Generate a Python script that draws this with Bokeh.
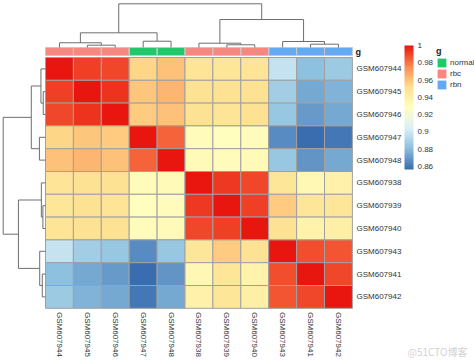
import math
from bokeh.plotting import figure
from bokeh.models import (Range1d, LinearColorMapper, ColorBar, FixedTicker,
                          CustomJSTickFormatter, Legend, LegendItem, Label, ColumnDataSource)
from bokeh.core.properties import value
from bokeh.embed import file_html
from bokeh.resources import INLINE

# ---------------- data ----------------
samples = ["GSM607944", "GSM607945", "GSM607946", "GSM607947", "GSM607948",
           "GSM607938", "GSM607939", "GSM607940", "GSM607943", "GSM607941", "GSM607942"]
groups = ["rbc", "rbc", "rbc", "normal", "normal", "rbc", "rbc", "rbc", "rbn", "rbn", "rbn"]
group_levels = ["normal", "rbc", "rbn"]
group_colors = ["#1DC968", "#F8877F", "#64A9F6"]

corr = [
    [1.000, 0.990, 0.989, 0.955, 0.961, 0.949, 0.948, 0.949, 0.897, 0.882, 0.886],
    [0.990, 1.000, 0.993, 0.959, 0.963, 0.951, 0.950, 0.951, 0.888, 0.874, 0.878],
    [0.989, 0.993, 1.000, 0.958, 0.961, 0.950, 0.949, 0.950, 0.884, 0.870, 0.875],
    [0.955, 0.959, 0.958, 1.000, 0.984, 0.930, 0.929, 0.930, 0.866, 0.8565, 0.860],
    [0.961, 0.963, 0.961, 0.984, 1.000, 0.932, 0.931, 0.932, 0.884, 0.868, 0.875],
    [0.949, 0.951, 0.950, 0.930, 0.932, 1.000, 0.992, 0.989, 0.948, 0.933, 0.939],
    [0.948, 0.950, 0.949, 0.929, 0.931, 0.992, 1.000, 0.991, 0.957, 0.947, 0.947],
    [0.949, 0.951, 0.950, 0.930, 0.932, 0.989, 0.991, 1.000, 0.950, 0.937, 0.940],
    [0.897, 0.888, 0.884, 0.866, 0.884, 0.948, 0.957, 0.950, 1.000, 0.988, 0.987],
    [0.882, 0.874, 0.870, 0.8565, 0.868, 0.933, 0.947, 0.937, 0.988, 1.000, 0.989],
    [0.886, 0.878, 0.875, 0.860, 0.875, 0.939, 0.947, 0.940, 0.987, 0.989, 1.000],
]

# hierarchical clustering (same tree for rows and columns), leaves in display order
merge_a = [1, 0, 3, 12, 6, 5, 9, 8, 16, 14]
merge_b = [2, 11, 4, 13, 7, 15, 10, 17, 18, 19]
merge_h = [0.053, 0.108, 0.144, 0.336, 0.062, 0.098, 0.076, 0.137, 0.640, 1.000]

cb_ticks = [0.86, 0.88, 0.90, 0.92, 0.94, 0.96, 0.98, 1.00]
base_palette = ["#3A6DB0", "#8CC0DE", "#DDF1F7", "#FFFFBF", "#FEE090", "#FC8A50", "#E8160E"]

# ---------------- layout constants (pixels, canvas coordinates) ----------------
W, H = 474, 361
HM_X0, HM_Y0 = 45.0, 57.0      # heatmap top-left corner
CW, CH = 27.9, 22.8            # cell size
ANN_TOP, ANN_BOT = 47.0, 55.0  # annotation bar
COL_TREE_TOP = 3.3
ROW_TREE_LEFT = 2.7
FONT = "Liberation Sans"
TXT = "#333333"

n = len(samples)


def ramp(cols, k):
    rgb = [tuple(int(c[i:i + 2], 16) for i in (1, 3, 5)) for c in cols]
    out = []
    for s in range(k):
        t = s / (k - 1) * (len(rgb) - 1)
        i = min(int(t), len(rgb) - 2)
        f = t - i
        c = [round(rgb[i][q] + (rgb[i + 1][q] - rgb[i][q]) * f) for q in range(3)]
        out.append("#%02x%02x%02x" % tuple(c))
    return out


palette = ramp(base_palette, 100)
flat = [v for row in corr for v in row]
mapper = LinearColorMapper(palette=palette, low=min(flat), high=max(flat))

p = figure(width=W, height=H,
           x_range=Range1d(-HM_X0 / CW, (W - HM_X0) / CW),
           y_range=Range1d(n - (H - HM_Y0) / CH, n + HM_Y0 / CH),
           output_backend="svg", toolbar_location=None, min_border=0,
           x_axis_location=None, y_axis_location=None,
           outline_line_color=None)
p.xgrid.visible = False
p.ygrid.visible = False

# heatmap
hx, hy, hv = [], [], []
for j in range(n):
    for i in range(n):
        hx.append(i + 0.5)
        hy.append(n - j - 0.5)
        hv.append(corr[j][i])
src = ColumnDataSource(dict(x=hx, y=hy, v=hv))
p.rect(x="x", y="y", width=1, height=1, source=src,
       fill_color={"field": "v", "transform": mapper},
       line_color="#a0a0a0", line_width=1)

# annotation bar
ann_c = n + (HM_Y0 - (ANN_TOP + ANN_BOT) / 2) / CH
ann_h = (ANN_BOT - ANN_TOP) / CH
grp_renderers = {}
for g, col in zip(group_levels, group_colors):
    xs = [i + 0.5 for i in range(n) if groups[i] == g]
    grp_renderers[g] = p.rect(x=xs, y=[ann_c] * len(xs), width=1, height=ann_h,
                              fill_color=col, line_color=None)
p.rect(x=[i + 0.5 for i in range(n)], y=[ann_c] * n, width=1, height=ann_h,
       fill_color=None, line_color="#c8c8c8", line_width=1)


# dendrograms
def tree_segments(a, b, h):
    pos = {i: i + 0.5 for i in range(n)}
    ht = {i: 0.0 for i in range(n)}
    segs = []
    for k, (l, r, hh) in enumerate(zip(a, b, h)):
        segs.append(([pos[l], pos[l], pos[r], pos[r]], [ht[l], hh, hh, ht[r]]))
        pos[n + k] = (pos[l] + pos[r]) / 2
        ht[n + k] = hh
    return segs


segs = tree_segments(merge_a, merge_b, merge_h)
hmax = max(merge_h)
col_base = n + (HM_Y0 - ANN_TOP) / CH
col_scale = (ANN_TOP - COL_TREE_TOP) / CH / hmax
p.multi_line(xs=[s[0] for s in segs],
             ys=[[col_base + v * col_scale for v in s[1]] for s in segs],
             line_color="#6e6e6e", line_width=1)
row_scale = (HM_X0 - ROW_TREE_LEFT) / CW / hmax
p.multi_line(xs=[[-v * row_scale for v in s[1]] for s in segs],
             ys=[[n - q for q in s[0]] for s in segs],
             line_color="#6e6e6e", line_width=1)

# labels
p.text(x=[(356 - HM_X0) / CW] * n, y=[n - j - 0.5 for j in range(n)], text=samples,
       text_align="left", text_baseline="middle", text_font=value(FONT),
       text_font_size="8px", text_color=TXT)
p.text(x=[i + 0.5 for i in range(n)], y=[n - (311.5 - HM_Y0) / CH] * n, text=samples,
       angle=-math.pi / 2, text_align="left", text_baseline="middle",
       text_font=value(FONT), text_font_size="8px", text_color=TXT)
p.text(x=[(355 - HM_X0) / CW], y=[ann_c], text=["g"], text_align="left",
       text_baseline="middle", text_font=value(FONT), text_font_size="9px",
       text_font_style="bold", text_color="#222222")

# colour bar
cb = ColorBar(color_mapper=mapper, ticker=FixedTicker(ticks=cb_ticks),
              formatter=CustomJSTickFormatter(code="return String(Math.round(tick*100)/100)"),
              width=9, height=124, location=(404, H - 169), padding=0, margin=0,
              major_tick_line_color=None, minor_tick_line_color=None, bar_line_color=None,
              background_fill_alpha=0, border_line_color=None, label_standoff=4,
              major_label_text_font_size="8px", major_label_text_font=FONT,
              major_label_text_color=TXT)
p.add_layout(cb, "center")

# annotation legend
leg = Legend(items=[LegendItem(label=g, renderers=[grp_renderers[g]]) for g in group_levels],
             location=(436, H - 90), title="g", title_text_font_style="bold",
             title_text_font_size="9px", title_text_font=FONT, title_text_color="#222222",
             label_text_font_size="8px", label_text_font=FONT, label_text_color=TXT,
             glyph_width=11, glyph_height=11, label_height=11, spacing=0, padding=0,
             margin=0, label_standoff=3, title_standoff=1,
             background_fill_alpha=0, border_line_color=None)
p.add_layout(leg, "center")

p.add_layout(Label(x=407, y=H - 351, x_units="screen", y_units="screen",
                   text="@51CTO博客", text_font="Noto Sans CJK SC", text_font_size="10px",
                   text_color="#d2d2d2", text_baseline="middle"))

open("out.html", "w").write(file_html(p, INLINE))
